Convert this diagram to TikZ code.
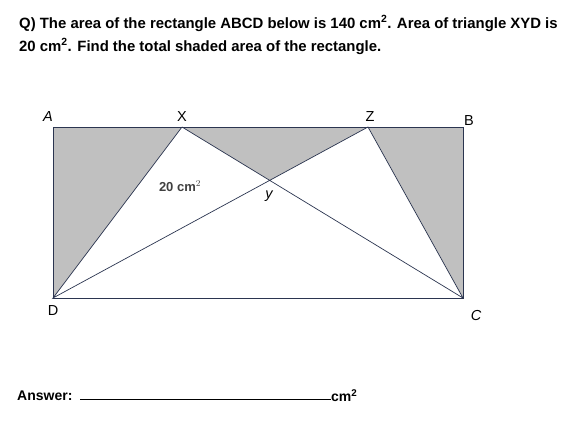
\documentclass[tikz,border=0pt]{standalone}
\usepackage{fontspec}
\setmainfont{Liberation Sans}
\usetikzlibrary{calc}
\definecolor{shadegray}{HTML}{C0C0C0}
\definecolor{edge}{HTML}{2B3550}
\tikzset{lbl/.style={font=\fontsize{14.5}{14}\selectfont, inner sep=0pt}}

\begin{document}
\begin{tikzpicture}[x=1pt, y=-1pt]
			%%%%% START %%%%%
			\useasboundingbox (0, 0) rectangle (563, 421);
			\node[anchor=west, font=\fontsize{14.9}{23}\selectfont\bfseries, align=left, inner sep=0pt] (q) at (19, 35) {Q) The area of the rectangle ABCD below is 140 cm\textsuperscript{2}. Area of triangle XYD is\\20 cm\textsuperscript{2}. Find the total shaded area of the rectangle.};
			
			\coordinate (A) at (53, 127);
			\coordinate (B) at (463, 127);
			\coordinate (C) at (463, 298);
			\coordinate (D) at (53, 298);
			\coordinate (X) at (182, 127);
			\coordinate (Z) at (368, 127);
			\coordinate (Y) at (intersection of X--C and Z--D);
			
			\fill[shadegray] (A) -- (X) -- (D) -- cycle;
			\fill[shadegray] (X) -- (Z) -- (Y) -- cycle;
			\fill[shadegray] (Z) -- (B) -- (C) -- cycle;
			
			\draw[edge, line width=0.7pt] (X) -- (D) -- (Z) -- (C) -- (X);
			\draw[edge, line width=0.9pt] (A) rectangle (C);
			
			\node[lbl] (la) at (48, 117) {\itshape A};
			\node[lbl] (lx) at (182, 117) {X};
			\node[lbl] (lz) at (370, 117) {Z};
			\node[lbl] (lb) at (469, 121) {B};
			\node[lbl] (ld) at (53, 311) {D};
			\node[lbl] (lc) at (476, 316) {\itshape C};
			\node[lbl] (ly) at (269, 196) {\itshape y};
			\node[font=\fontsize{13}{13}\selectfont\bfseries, text=black!75, inner sep=0pt] (area) at (180, 186) {20 cm$^{2}$};
			
			\node[anchor=west, font=\fontsize{14}{14}\selectfont\bfseries, inner sep=0pt] (ans) at (17, 396) {Answer:};
			\draw[line width=1.5pt] (80, 399.5) -- (331, 399.5);
			\node[anchor=west, font=\fontsize{14}{14}\selectfont\bfseries, inner sep=0pt] (unit) at (331, 396) {cm\textsuperscript{2}};
			%%%%% END %%%%%
		\end{tikzpicture}
\end{document}
